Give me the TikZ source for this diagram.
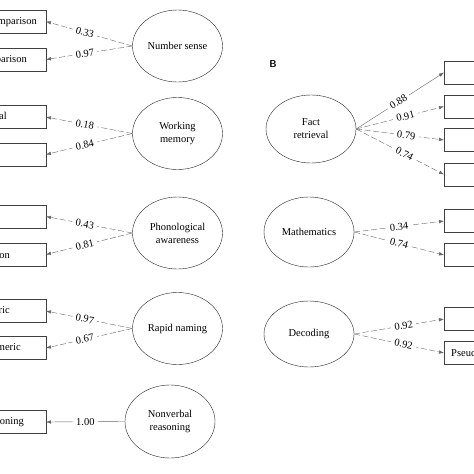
\documentclass[tikz,border=0pt]{standalone}
\usepackage{fontspec}
\setmainfont{Liberation Serif}
\usetikzlibrary{shapes.geometric,arrows.meta}
\begin{document}
\begin{tikzpicture}[x=1pt,y=-1pt,
    font=\fontsize{10.5}{13}\selectfont,
    latent/.style={ellipse, draw=black!85, minimum width=90pt, minimum height=72pt, align=center, inner sep=0pt},
    lbox/.style={draw=black!75, anchor=east, minimum height=23pt},
    rbox/.style={draw=black!75, anchor=west, minimum height=23pt, minimum width=60pt, inner xsep=7pt},
    ld/.style={draw=black!60, dash pattern=on 6pt off 2.5pt, -{Latex[length=5pt,width=3.5pt]}},
    fix/.style={draw=black!60, -{Latex[length=5pt,width=3.5pt]}},
    coef/.style={pos=0.55, sloped, fill=white, inner xsep=3.5pt, inner ysep=1pt, font=\fontsize{10.5}{12}\selectfont}
    ]
    \useasboundingbox (0,0) rectangle (474,474);
    \clip (0,0) rectangle (474,474);
    \node[latent] (ns) at (177.5,46) {Number sense};
    \node[latent] (wm) at (177.5,133.5) {Working\\memory};
    \node[latent] (pa) at (177.5,233) {Phonological\\awareness};
    \node[latent] (rn) at (177.5,328.5) {Rapid naming};
    \node[latent, minimum height=73pt] (nv) at (170,421.5) {Nonverbal\\reasoning};
    \foreach \y/\t/\s [count=\i] in {21.5/Symbolic comparison/9, 59.5/Nonsymbolic comparison/19,
        117/Visuospatial/39, 154.5/Digit span/52, 216.5/Blending/50, 254.5/Elision/36,
        311/Alphanumeric/36, 348/Non-alphanumeric/25, 422/Matrix reasoning/22}
      \node[lbox, inner xsep=\s pt] (b\i) at (46,\y) {\t};
    \draw[ld] (ns.west) -- node[coef]{0.33} (b1.east);
    \draw[ld] (ns.west) -- node[coef]{0.97} (b2.east);
    \draw[ld] (wm.west) -- node[coef]{0.18} (b3.east);
    \draw[ld] (wm.west) -- node[coef]{0.84} (b4.east);
    \draw[ld] (pa.west) -- node[coef]{0.43} (b5.east);
    \draw[ld] (pa.west) -- node[coef]{0.81} (b6.east);
    \draw[ld] (rn.west) -- node[coef]{0.97} (b7.east);
    \draw[ld] (rn.west) -- node[coef]{0.67} (b8.east);
    \draw[fix] (nv.west) -- node[coef, pos=0.5]{1.00} (b9.east);

    \node[font=\sffamily\bfseries\fontsize{10}{12}\selectfont] (B) at (273,64) {B};
    \node[latent, minimum height=68pt] (fr) at (311,129) {Fact\\retrieval};
    \node[latent, minimum height=70pt] (ma) at (309,232) {Mathematics};
    \node[latent, minimum height=66pt] (dc) at (309,334) {Decoding};
    \foreach \y/\t [count=\i] in {72.5/{}, 106.5/{}, 140/{}, 174.5/{}, 221/{}, 255/{}, 319/{}, 353/Pseudowords}
      \node[rbox] (r\i) at (444,\y) {\t};
    \draw[fix] (fr.east) -- node[coef, pos=0.48]{0.88} (r1.west);
    \draw[ld] (fr.east) -- node[coef, pos=0.56]{0.91} (r2.west);
    \draw[ld] (fr.east) -- node[coef, pos=0.57]{0.79} (r3.west);
    \draw[ld] (fr.east) -- node[coef]{0.74} (r4.west);
    \draw[ld] (ma.east) -- node[coef, pos=0.5]{0.34} (r5.west);
    \draw[ld] (ma.east) -- node[coef, pos=0.5]{0.74} (r6.west);
    \draw[ld] (dc.east) -- node[coef]{0.92} (r7.west);
    \draw[ld] (dc.east) -- node[coef]{0.92} (r8.west);
\end{tikzpicture}
\end{document}
